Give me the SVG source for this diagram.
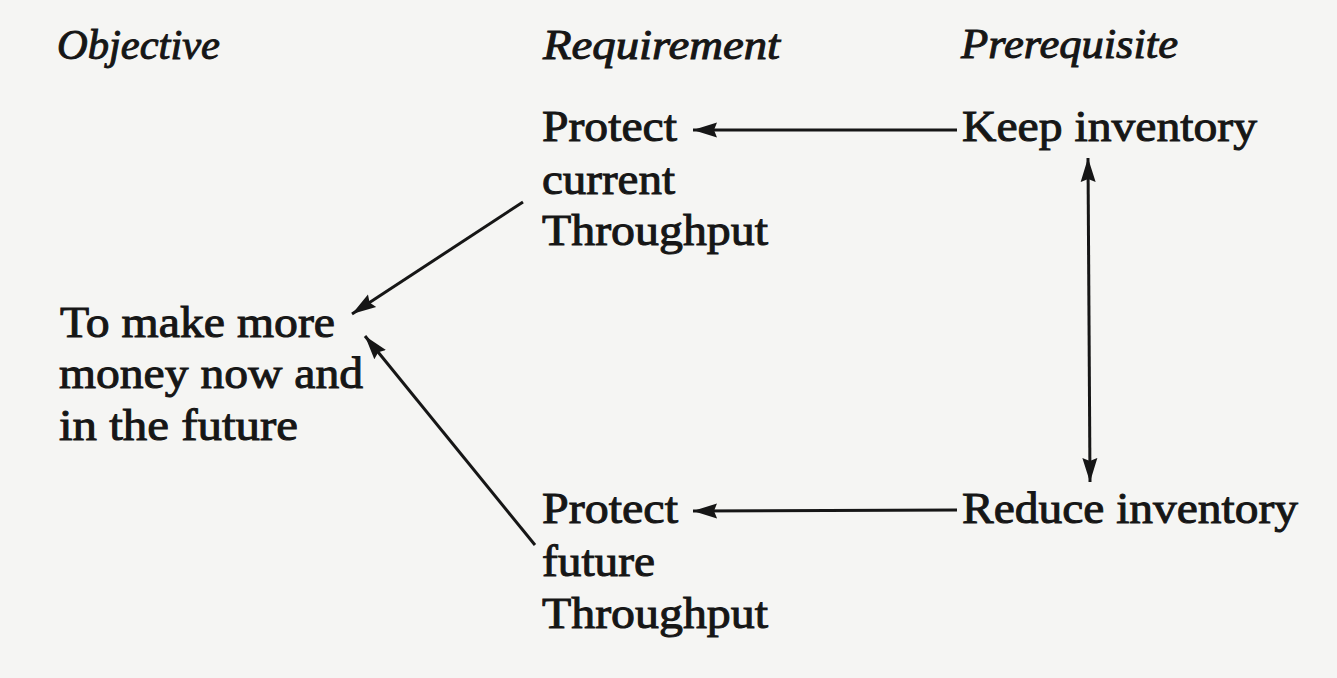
<svg xmlns="http://www.w3.org/2000/svg" width="1337" height="678" viewBox="0 0 1337 678">
  <style>
    .t { font-family: "Liberation Serif", "Times New Roman", serif; font-size: 44px; fill: #161616; stroke: #161616; stroke-width: 1; }
    .h { font-style: italic; font-size: 42px; }
    .c { stroke: #161616; stroke-width: 3; fill: none; }
  </style>
  <defs>
    <marker id="ah" markerUnits="userSpaceOnUse" markerWidth="26" markerHeight="18" refX="24" refY="9" orient="auto-start-reverse" viewBox="0 0 26 18">
      <path d="M0,1.5 L24,9 L0,16.5 L3,9 z" fill="#161616"/>
    </marker>
  </defs>
  <rect x="0" y="0" width="1337" height="678" fill="#f5f5f3"/>

  <g id="headers">
    <text class="t h" x="57" y="59" textLength="163" lengthAdjust="spacingAndGlyphs">Objective</text>
    <text class="t h" x="543" y="59" textLength="237" lengthAdjust="spacingAndGlyphs">Requirement</text>
    <text class="t h" x="961" y="58" textLength="217" lengthAdjust="spacingAndGlyphs">Prerequisite</text>
  </g>

  <g id="objective">
    <text class="t" x="60" y="337" textLength="275" lengthAdjust="spacingAndGlyphs">To make more</text>
    <text class="t" x="59" y="388" textLength="304" lengthAdjust="spacingAndGlyphs">money now and</text>
    <text class="t" x="59" y="440" textLength="239" lengthAdjust="spacingAndGlyphs">in the future</text>
  </g>

  <g id="req-current">
    <text class="t" x="542" y="141" textLength="135" lengthAdjust="spacingAndGlyphs">Protect</text>
    <text class="t" x="542" y="194" textLength="133" lengthAdjust="spacingAndGlyphs">current</text>
    <text class="t" x="542" y="245" textLength="226" lengthAdjust="spacingAndGlyphs">Throughput</text>
  </g>

  <g id="req-future">
    <text class="t" x="542" y="523" textLength="136" lengthAdjust="spacingAndGlyphs">Protect</text>
    <text class="t" x="542" y="576" textLength="113" lengthAdjust="spacingAndGlyphs">future</text>
    <text class="t" x="542" y="628" textLength="226" lengthAdjust="spacingAndGlyphs">Throughput</text>
  </g>

  <g id="pre-keep">
    <text class="t" x="962" y="141" textLength="295" lengthAdjust="spacingAndGlyphs">Keep inventory</text>
  </g>

  <g id="pre-reduce">
    <text class="t" x="962" y="523" textLength="336" lengthAdjust="spacingAndGlyphs">Reduce inventory</text>
  </g>

  <g id="connectors">
    <line class="c" x1="957" y1="130" x2="693" y2="130" marker-end="url(#ah)"/>
    <line class="c" x1="957" y1="510" x2="693" y2="511" marker-end="url(#ah)"/>
    <line class="c" x1="523" y1="202" x2="352" y2="314" marker-end="url(#ah)"/>
    <line class="c" x1="535" y1="545" x2="365" y2="336" marker-end="url(#ah)"/>
    <line class="c" x1="1088" y1="158" x2="1090" y2="482" marker-start="url(#ah)" marker-end="url(#ah)"/>
  </g>
</svg>
